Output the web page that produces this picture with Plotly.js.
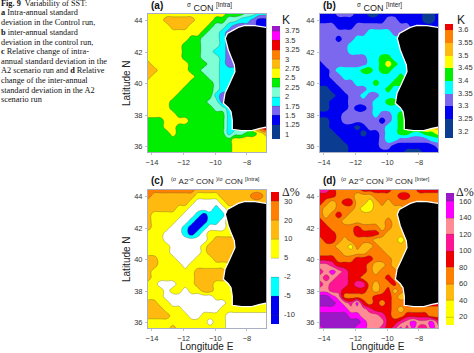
<!DOCTYPE html>
<html><head><meta charset="utf-8">
<script src="https://cdn.plot.ly/plotly-3.0.0.min.js"></script>
<style>html,body{margin:0;padding:0;background:#fff;overflow:hidden}#c{width:474px;height:353px}</style>
</head><body><div id="c"></div>
<script>
const lon=[-14.25,-13.86,-13.47,-13.07,-12.68,-12.29,-11.90,-11.51,-11.11,-10.72,-10.33,-9.94,-9.55,-9.15,-8.76,-8.37,-7.98,-7.59,-7.19,-6.80];
const lat=[44.44,44.04,43.64,43.24,42.84,42.44,42.04,41.65,41.25,40.85,40.45,40.05,39.65,39.25,38.85,38.45,38.05,37.65,37.25,36.85,36.45,36.05,35.65];
const coastLon=[-6.5,-6.8,-7.49,-8.13,-8.55,-8.93,-9.24,-9.37,-9.26,-9.18,-9.01,-8.80,-8.76,-8.93,-9.14,-9.39,-9.49,-9.18,-9.01,-8.93,-8.93,-8.34,-7.70,-7.18,-6.8,-6.5,-6.5];
const coastLat=[43.57,43.57,43.68,43.70,43.57,43.36,43.19,42.88,42.45,42.14,41.71,41.19,40.76,40.34,39.92,39.39,38.76,38.48,38.23,37.70,37.11,37.02,37.02,37.17,37.24,37.24,43.57];

const intraConBands=[
[6,6,6,6,6,6,6,6,6,6,6,6,6,5,5,5,4,4,3,3],
[6,6,6,7,7,7,7,7,6,6,6,5,5,4,4,3,3,2,1,1],
[6,6,6,6,7,7,7,6,6,6,5,4,4,3,2,2,2,2,1,1],
[6,6,6,6,6,6,6,6,6,5,4,4,3,2,2,2,2,2,2,2],
[6,6,6,6,6,6,6,5,5,4,4,4,3,2,2,2,2,2,2,2],
[6,6,6,6,6,6,5,5,5,4,4,4,3,2,2,2,2,2,2,2],
[6,6,6,6,6,6,5,5,5,4,4,3,3,2,2,2,2,2,2,2],
[6,6,6,6,6,6,5,5,5,4,4,4,3,2,2,2,2,2,2,2],
[7,6,6,6,6,6,6,5,5,5,4,4,3,2,2,2,2,2,2,2],
[7,7,6,6,6,6,6,5,5,4,4,4,3,3,3,3,3,3,3,3],
[7,6,6,6,6,6,6,6,5,5,4,4,3,3,3,3,3,3,3,3],
[6,6,6,6,6,6,6,5,5,5,5,4,3,3,3,3,3,3,3,3],
[6,6,6,6,6,6,5,5,5,5,5,4,3,3,3,3,3,3,3,3],
[6,6,6,6,6,5,5,5,5,5,5,3,2,2,2,2,2,2,2,2],
[6,6,6,6,5,5,5,5,5,5,4,4,2,2,2,2,2,2,2,2],
[6,6,6,6,5,5,5,5,5,5,5,4,4,3,3,3,3,3,3,3],
[6,6,6,6,6,5,5,5,5,5,5,5,5,3,3,3,3,3,3,3],
[5,5,5,6,6,6,6,5,5,5,5,5,5,3,3,3,3,3,3,3],
[5,5,5,6,6,5,5,5,5,5,5,5,5,3,3,3,3,7,9,10],
[5,5,5,5,6,5,5,5,5,5,5,5,5,3,4,4,5,5,6,7],
[5,5,5,5,5,5,5,5,5,5,5,5,5,5,6,6,6,6,6,6],
[5,5,5,5,5,5,5,5,5,5,5,5,5,5,6,6,6,6,6,6],
[5,5,5,5,5,5,5,5,5,5,5,5,5,5,6,6,6,6,6,6]];
const interConBands=[
[1,1,1,2,2,2,1,1,0,0,1,1,1,1,1,1,1,0,0,1],
[1,1,1,1,1,1,1,1,1,1,1,2,2,1,1,1,1,0,0,1],
[2,2,2,1,1,1,2,2,2,2,2,2,2,2,2,1,1,1,1,1],
[2,2,2,2,2,2,2,2,3,3,3,3,2,2,2,2,2,2,2,2],
[2,2,2,1,2,2,3,3,3,3,3,3,3,3,3,3,3,3,3,3],
[2,2,2,2,2,3,3,3,3,3,3,3,3,3,3,3,3,3,3,3],
[2,2,2,2,2,3,3,3,3,3,3,3,3,3,3,3,3,3,3,3],
[2,2,2,2,2,2,2,2,3,3,4,4,3,3,4,3,3,3,3,3],
[1,2,2,2,2,2,2,2,3,3,4,5,4,3,3,3,3,3,3,3],
[1,1,2,3,3,3,3,4,4,3,4,4,3,3,3,3,3,3,3,3],
[1,1,2,2,3,3,3,3,3,3,3,3,3,4,3,3,3,3,3,3],
[1,1,1,2,2,2,3,3,3,4,3,3,4,4,3,3,3,3,3,3],
[0,0,1,1,2,2,2,2,3,3,3,4,3,3,3,3,3,3,3,3],
[0,0,0,1,1,2,2,3,2,2,3,3,3,3,3,3,3,3,3,3],
[0,0,1,1,1,2,2,2,2,3,3,4,4,3,3,3,3,3,3,3],
[0,0,1,1,1,2,1,1,2,3,3,3,3,3,3,3,3,3,3,3],
[1,1,1,1,2,2,2,2,2,3,2,2,3,4,3,3,3,3,3,3],
[0,0,1,1,2,2,2,2,2,2,1,2,3,4,4,4,4,4,4,4],
[0,0,1,1,1,1,0,1,2,2,2,3,3,4,5,6,6,6,6,6],
[0,0,0,1,1,1,1,0,1,1,2,3,3,4,4,3,3,4,4,5],
[0,0,0,0,1,1,1,1,1,1,2,3,3,2,2,2,2,2,3,3],
[0,0,0,0,0,1,1,1,1,1,2,2,1,1,1,1,1,1,1,2],
[0,0,0,0,0,1,1,1,1,1,1,1,1,1,0,0,0,1,1,1]];
const intraChangeBands=[
[5,5,5,5,5,5,5,5,4,4,4,4,4,4,4,4,4,4,4,4],
[5,4,4,4,4,4,4,4,3,3,3,3,4,4,4,4,4,5,5,4],
[4,4,4,4,4,4,4,3,2,2,2,2,3,4,4,4,4,4,4,4],
[4,4,4,4,4,3,3,2,2,2,2,1,2,3,3,3,3,3,3,3],
[4,3,3,3,3,3,2,2,1,0,1,1,1,3,3,3,3,3,3,3],
[4,3,3,3,3,2,2,1,0,0,1,1,2,3,3,3,3,3,3,3],
[4,3,3,3,2,2,1,0,0,1,2,2,2,3,3,3,3,3,3,3],
[3,3,3,2,2,2,1,0,1,2,3,3,3,3,3,3,3,3,3,3],
[3,3,3,2,2,2,2,2,2,2,3,4,4,4,4,4,4,4,4,4],
[3,3,3,3,2,2,2,2,2,3,4,4,4,4,4,4,4,4,4,4],
[3,3,3,3,2,2,2,2,2,3,4,4,4,4,3,3,3,3,3,3],
[4,4,3,3,3,2,2,2,3,3,3,4,4,4,3,3,3,3,3,3],
[4,4,3,3,3,3,2,3,3,3,3,3,3,3,3,3,3,3,3,3],
[4,3,3,3,3,3,3,3,4,4,4,4,4,3,3,3,3,3,3,3],
[4,3,3,3,3,3,3,3,4,4,4,4,4,4,4,4,4,4,4,4],
[3,3,2,2,2,3,3,3,4,4,4,3,3,3,3,3,3,3,3,3],
[3,3,3,2,3,3,2,3,3,4,4,3,3,3,3,3,3,3,3,3],
[3,3,3,2,2,2,2,2,2,2,2,3,3,3,3,3,3,3,3,3],
[4,4,3,3,2,2,2,2,2,2,2,2,2,3,3,3,3,3,3,3],
[4,4,4,3,3,3,2,2,2,2,2,2,3,3,3,3,3,3,3,3],
[4,4,4,4,3,3,3,2,2,3,3,3,3,2,2,2,2,2,2,2],
[3,3,3,3,3,3,3,3,3,3,2,3,3,2,2,2,2,2,2,2],
[3,3,3,3,4,3,3,3,3,3,3,3,3,2,2,2,2,2,2,2]];
const interChangeBands=[
[4,4,3,2,2,2,2,3,3,3,3,3,2,2,2,2,3,3,3,3],
[3,3,3,2,2,2,1,1,1,2,2,2,2,3,3,2,2,2,2,2],
[3,2,1,2,3,3,1,1,0,1,2,1,2,2,2,2,2,2,2,2],
[2,1,1,2,2,2,1,0,0,1,1,1,1,1,2,2,2,2,2,2],
[2,1,2,3,2,1,1,1,1,1,1,1,1,1,1,1,1,1,1,1],
[3,2,2,2,1,1,1,1,1,1,1,2,1,1,1,1,1,1,1,1],
[3,3,2,2,2,2,3,2,2,2,1,2,1,1,1,1,1,1,1,1],
[3,3,3,2,2,2,3,3,3,3,2,1,1,1,1,1,1,1,1,1],
[2,3,3,2,1,2,2,2,2,1,1,1,1,0,1,1,1,1,1,1],
[2,2,2,1,1,0,2,1,1,2,1,1,1,1,1,1,1,1,1,1],
[2,2,2,2,1,1,1,1,2,2,2,1,1,1,1,1,1,1,1,1],
[3,3,3,2,2,2,3,3,3,2,2,2,1,1,1,1,1,1,1,1],
[5,5,4,3,3,3,3,3,2,1,1,2,1,1,1,1,1,1,1,1],
[4,5,6,5,4,3,3,3,2,1,2,2,2,1,1,1,1,1,1,1],
[5,4,5,4,4,3,3,2,2,2,2,3,2,2,2,2,2,2,2,2],
[4,5,4,4,4,3,4,4,2,1,2,2,3,1,1,1,1,1,1,1],
[5,5,4,4,3,3,3,3,2,1,2,3,1,2,1,1,1,1,1,1],
[7,7,6,5,2,2,2,2,2,3,3,3,2,1,1,1,1,1,1,1],
[7,7,7,6,5,4,6,3,2,3,2,3,2,2,3,3,3,3,3,3],
[6,6,6,6,6,5,5,5,4,3,3,3,2,1,2,2,2,2,2,2],
[7,7,7,7,7,6,6,5,5,5,4,3,2,2,3,3,3,3,2,2],
[7,7,7,7,7,7,7,6,5,5,5,3,3,4,5,6,5,5,6,4],
[6,7,7,7,7,7,6,6,5,5,4,3,4,6,4,6,4,4,6,5]];

const coloursA=['#0a3d91','#0000f0','#7b68ee','#00ffff','#7fffd4','#00ee00','#ffff00','#ffb90f','#ff7f00','#ee0000','#ff00ff','#9a18c8'];
const coloursB=['#0a3d91','#0000f0','#7b68ee','#00ffff','#00ee00','#ffff00','#ffb90f','#ff7f00','#ee0000'];
const coloursC=['#0000f0','#00ffff','#ffffff','#ffff00','#ffb90f','#ff7f00','#ee0000'];
const coloursD=['#ffff00','#ffb90f','#ff7f00','#ee0000','#ff1493','#ff8c94','#ff00ff','#9a18c8'];
const ticksA=['1','1.25','1.5','1.75','2','2.25','2.5','2.75','3','3.25','3.5','3.75'];
const ticksB=['3.2','3.25','3.3','3.35','3.4','3.45','3.5','3.55','3.6'];
const ticksC=['-10','-5','-2','5','10','20','30'];
const ticksD=['20','40','60','80','100','120','140','160'];
const captionLines=['<b>Fig. 9</b>  Variability of SST:','<b>a</b> Intra-annual standard','deviation in the Control run,','<b>b</b> inter-annual standard','deviation in the control run,','<b>c</b> Relative change of intra-','annual standard deviation in the','A2 scenario run and <b>d</b> Relative','change of the inter-annual','standard deviation in the A2','scenario run'];
const captionY=[3,13,22.5,32,42,51.5,61,70.5,80,90,99.5];

const W=474,H=353,font='Liberation Sans, Arial, sans-serif';
const panels=[
 {z:intraConBands,cols:coloursA,ticks:ticksA,box:[148,266,13.7,152.3],bar:[271.5,25.7,139],barW:7.5,label:'(a)',lx:150,ly:6,
  title:'<sup>σ</sup> CON <sup>[Intra]</sup>',tx:209,ty:7,ts:9,unit:'K',ux:286,uy:20,uf:font,line:'rgba(60,60,60,0.55)'},
 {z:interConBands,cols:coloursB,ticks:ticksB,box:[320,438,13.7,152.3],bar:[444.5,24,137.5],barW:7.5,label:'(b)',lx:322,ly:6,
  title:'<sup>σ</sup> CON <sup>[Inter]</sup>',tx:379,ty:7,ts:9,unit:'K',ux:461,uy:20,uf:font,line:'rgba(60,60,60,0)'},
 {z:intraChangeBands,cols:coloursC,ticks:ticksC,box:[148,266,189.7,328.3],bar:[271,191.7,323.7],barW:8,label:'(c)',lx:150,ly:181,
  title:'<sup>(σ</sup> A2<sup>-σ</sup> CON <sup>)/σ</sup> CON <sup>[Intra]</sup>',tx:215,ty:181,ts:8,unit:'Δ%',ux:291,uy:192,uf:'Liberation Serif, serif',line:'rgba(60,60,60,0.55)'},
 {z:interChangeBands,cols:coloursD,ticks:ticksD,box:[320,438,189.7,328.3],bar:[446,192.7,324.7],barW:8,label:'(d)',lx:322,ly:181,
  title:'<sup>(σ</sup> A2<sup>-σ</sup> CON <sup>)/σ</sup> CON <sup>[Inter]</sup>',tx:385,ty:181,ts:8,unit:'Δ%',ux:465,uy:192,uf:'Liberation Serif, serif',line:'rgba(60,60,60,0.55)'}];

const traces=[],ann=[];
const layout={width:W,height:H,margin:{l:0,r:0,t:0,b:0},paper_bgcolor:'#fff',plot_bgcolor:'#fff',showlegend:false,annotations:ann,font:{family:font,color:'#222'}};
const note=(text,x,y,size,extra)=>ann.push(Object.assign({text,x:x/W,y:1-y/H,xref:'paper',yref:'paper',showarrow:false,xanchor:'center',yanchor:'middle',borderpad:0,font:{size,family:font,color:'#222'}},extra||{}));

panels.forEach((p,i)=>{
  const s=i?String(i+1):'';
  const n=p.cols.length;
  const axis={ticks:'outside',ticklen:2,tickwidth:0.6,tickcolor:'#999',tickfont:{size:7.5,color:'#333'},showgrid:false,zeroline:false,showline:true,linecolor:'#a9afc4',linewidth:1,mirror:true,ticklabelstandoff:1};
  layout['xaxis'+s]=Object.assign({domain:[p.box[0]/W,p.box[1]/W],range:[-14.25,-6.8],tickvals:[-14,-12,-10,-8],anchor:'y'+s},axis);
  layout['yaxis'+s]=Object.assign({domain:[1-p.box[3]/H,1-p.box[2]/H],range:[35.65,44.44],tickvals:[36,38,40,42,44],anchor:'x'+s},axis);
  traces.push({type:'contour',x:lon,y:lat.slice().reverse(),z:p.z.slice().reverse().map(r=>r.map(v=>v+0.5)),xaxis:'x'+s,yaxis:'y'+s,
    autocontour:false,contours:{start:0,end:n-1,size:1,coloring:'fill'},line:{color:p.line,width:0.5,smoothing:1.3},
    colorscale:[[0,p.cols[0]]].concat(p.cols.map((c,k)=>[(k+1)/n,c])),hoverinfo:'skip',
    colorbar:{x:p.bar[0]/W,xanchor:'left',xpad:0,ypad:0,y:1-p.bar[2]/H,yanchor:'bottom',len:p.bar[2]-p.bar[1],lenmode:'pixels',thickness:p.barW,thicknessmode:'pixels',outlinewidth:0,
      tickmode:'array',tickvals:p.ticks.map((t,k)=>k),ticktext:p.ticks,ticks:'outside',ticklen:4,tickcolor:'rgba(0,0,0,0)',tickfont:{size:7.5,color:'#333'}}});
  traces.push({type:'scatter',mode:'lines',x:coastLon,y:coastLat,fill:'toself',fillcolor:'#000',line:{color:'#fff',width:1.3},xaxis:'x'+s,yaxis:'y'+s,hoverinfo:'skip'});
  note('<b>'+p.label+'</b>',p.lx,p.ly,10,{xanchor:'left',font:{size:10,family:font,color:'#111'}});
  note(p.title,p.tx,p.ty,p.ts);
  note(p.unit,p.ux,p.uy,12,{font:{size:12,family:p.uf,color:'#222'}});
});
captionLines.forEach((t,i)=>note(t,0,captionY[i],8.3,{xanchor:'left',font:{size:8.3,family:'Liberation Serif, serif',color:'#111'}}));
note('Latitude N',126,83,10,{textangle:-90});
note('Latitude N',126,259,10,{textangle:-90});
note('Longitude E',207,346.5,10);
note('Longitude E',378,346.5,10);
Plotly.newPlot('c',traces,layout,{staticPlot:true,displayModeBar:false});
</script></body></html>
